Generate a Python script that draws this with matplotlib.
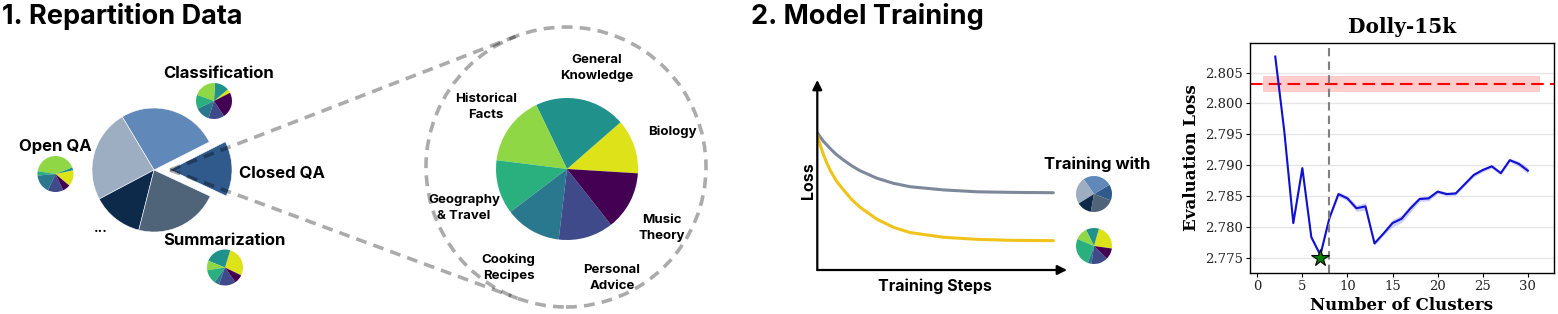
import numpy as np
import matplotlib
matplotlib.use("Agg")
import matplotlib.pyplot as plt
from matplotlib.patches import Circle

# ------------------------------------------------------------------ data
task_names = ["Closed QA", "Classification", "Open QA", "Other", "Summarization"]
task_share = [14.4, 26.1, 24.2, 13.3, 22.0]
task_colors = ["#2f5a8b", "#6089b9", "#9daec2", "#0e2a4b", "#4f6379"]

topic_names = ["Biology", "General\nKnowledge", "Historical\nFacts",
               "Geography\n& Travel", "Cooking\nRecipes", "Personal\nAdvice",
               "Music\nTheory"]
topic_colors = ["#dde318", "#21918c", "#8fd744", "#2ab07f",
                "#2a788e", "#3e4a89", "#440154"]
closed_qa_topics = [12.4, 20.7, 15.9, 12.3, 12.8, 12.5, 13.4]
classification_topics = [3.6, 13.1, 20.3, 12.5, 13.1, 14.2, 23.2]
open_qa_topics = [14.4, 2.8, 41.4, 3.9, 16.7, 13.9, 6.9]
summarization_topics = [27.5, 23.6, 8.6, 12.8, 4.2, 15.3, 8.0]
cluster_topics = [22.8, 11.7, 11.4, 25.8, 3.3, 15.0, 10.0]

# schematic training curves
steps_task = [0, 2.5, 5.4, 8.0, 11.1, 14.5, 18.1, 25.3, 32.3, 39.3, 53.5,
              67.7, 81.9, 100]
loss_task = [73.0, 68.6, 64.7, 61.5, 58.5, 55.5, 52.8, 48.8, 46.1, 44.3,
             42.6, 41.6, 41.3, 41.1]
steps_cluster = [0, 1.2, 2.5, 4.0, 5.4, 8.0, 11.1, 14.5, 18.1, 25.3, 32.3,
                 39.3, 53.5, 67.7, 81.9, 100]
loss_cluster = [71.8, 66.5, 61.8, 57.0, 53.2, 47.5, 42.6, 37.6, 33.4, 27.0,
                22.7, 19.9, 17.4, 16.3, 15.8, 15.6]

# Dolly-15k evaluation loss vs number of clusters
n_clusters = list(range(2, 31))
eval_loss = [2.8076, 2.7955, 2.7806, 2.7895, 2.7783, 2.7754, 2.7814, 2.7853,
             2.7846, 2.7830, 2.7833, 2.7773, 2.7789, 2.7806, 2.7813, 2.7830,
             2.7845, 2.7846, 2.7857, 2.7853, 2.7854, 2.7869, 2.7884, 2.7892,
             2.7898, 2.7887, 2.7908, 2.7902, 2.7891]
eval_std = [0.0003, 0.0003, 0.0003, 0.0006, 0.0003, 0.0003, 0.0003, 0.0004,
            0.0004, 0.0005, 0.0006, 0.0003, 0.0003, 0.0006, 0.0006, 0.0006,
            0.0004, 0.0004, 0.0003, 0.0003, 0.0003, 0.0003, 0.0003, 0.0003,
            0.0003, 0.0003, 0.0003, 0.0004, 0.0005]
baseline_loss = 2.8032
baseline_low, baseline_high = 2.8018, 2.8045
best_k, best_loss = 7, 2.775
chosen_k = 8

# ------------------------------------------------------------------ figure
W, H = 1558, 314
plt.rcParams["font.family"] = ["Inter", "DejaVu Sans"]
fig = plt.figure(figsize=(W / 100, H / 100), dpi=100)

ax0 = fig.add_axes([0, 0, 1, 1])


def Y(y):
    return H - y


def label(x, y_base, lines, size, dy=None):
    if dy is None:
        dy = size * 1.75
    for i, ln in enumerate(lines.split("\n")):
        ax0.text(x, Y(y_base + i * dy), ln, ha="center", va="baseline",
                 fontsize=size, fontweight="bold", color="black")


# titles
ax0.text(2, Y(23.5), "1. Repartition Data", fontsize=19.5, fontweight="bold",
         ha="left", va="baseline")
ax0.text(751, Y(24.5), "2. Model Training", fontsize=19.5, fontweight="bold",
         ha="left", va="baseline")

# dashed zoom circle and tangent lines
cx, cy, cr = 566, 167, 140
tip = np.array([170.0, 170.0])
dash_kw = dict(color="black", alpha=0.33, lw=2.6, linestyle=(0, (3, 2)))
ax0.add_patch(Circle((cx, Y(cy)), cr, fill=False, **dash_kw))

# main task pie (explode given in pixels, since the axes is in pixel units)
ax0.pie(task_share, colors=task_colors, radius=62, center=(154, Y(170)),
        startangle=-25, explode=[16, 0, 0, 0, 0], frame=True,
        wedgeprops=dict(linewidth=0.4, edgecolor="white"))

d = np.hypot(cx - tip[0], cy - tip[1])
ang0 = np.arctan2(-(cy - tip[1]), cx - tip[0])
off = np.arcsin(cr / d)
L = np.sqrt(d ** 2 - cr ** 2)
for s in (1, -1):
    a = ang0 + s * off
    ax0.plot([tip[0], tip[0] + L * np.cos(a)],
             [Y(tip[1]), Y(tip[1]) + L * np.sin(a)], **dash_kw)

# zoomed closed-QA pie
ax0.pie(closed_qa_topics, colors=topic_colors, radius=71, center=(567, Y(169)),
        startangle=-3.5, frame=True, wedgeprops=dict(linewidth=0))

# mini pies
mini = [(classification_topics, (214, 101), 27),
        (open_qa_topics, (55.5, 174), -40),
        (summarization_topics, (225, 267.5), -26),
        (cluster_topics, (1094, 246), -8)]
for vals, (mx, my), sa in mini:
    ax0.pie(vals, colors=topic_colors, radius=18, center=(mx, Y(my)),
            startangle=sa, frame=True, wedgeprops=dict(linewidth=0))
ax0.pie(task_share, colors=task_colors, radius=18, center=(1094, Y(194)),
        startangle=-21, frame=True, wedgeprops=dict(linewidth=0))

# task labels
label(218.5, 78.3, "Classification", 12)
label(55, 151, "Open QA", 12)
label(282, 178.3, "Closed QA", 12)
label(224.5, 245, "Summarization", 12)
label(101, 232, "...", 10)

# topic labels
topic_pos = {"General\nKnowledge": (597, 62.7), "Historical\nFacts": (486, 101.7),
             "Biology": (672, 135), "Geography\n& Travel": (464, 203.3),
             "Music\nTheory": (662, 223.3), "Cooking\nRecipes": (508.5, 262.7),
             "Personal\nAdvice": (612, 272.7)}
for name in topic_names:
    x, yb = topic_pos[name]
    label(x, yb, name, 9.5, dy=16.0)

label(1097, 169.3, "Training with", 12)

ax0.set_xlim(0, W)
ax0.set_ylim(0, H)
ax0.set_aspect("auto")
ax0.axis("off")

# ------------------------------------------------------------------ schematic
axs = fig.add_axes([817.3 / W, (H - 270) / H, (1067 - 817.3) / W, (270 - 80) / H])
axs.set_xlim(0, (1067 - 817.3) / 2.36)
axs.set_ylim(0, 190 / 1.88)
axs.plot(steps_task, loss_task, color="#7d889a", lw=2.2, solid_capstyle="round",
         solid_joinstyle="round")
axs.plot(steps_cluster, loss_cluster, color="#f0c31a", lw=2.2,
         solid_capstyle="round", solid_joinstyle="round")
arrow_kw = dict(arrowstyle="-|>", lw=1.6, color="black", mutation_scale=14,
                shrinkA=0, shrinkB=0)
axs.annotate("", xy=(0, 1), xytext=(0, 0), xycoords="axes fraction",
             arrowprops=arrow_kw)
axs.annotate("", xy=(1, 0), xytext=(0, 0), xycoords="axes fraction",
             arrowprops=arrow_kw)
axs.axis("off")
ax0.text(813.3, Y(180.5), "Loss", rotation=90, rotation_mode="anchor",
         ha="center", va="baseline", fontsize=11.5, fontweight="bold")
label(935, 291.5, "Training Steps", 11.5)

# ------------------------------------------------------------------ results
serif = "DejaVu Serif"
ax = fig.add_axes([1250 / W, (H - 273) / H, 304 / W, 230 / H])
lo = np.array(eval_loss) - np.array(eval_std)
hi = np.array(eval_loss) + np.array(eval_std)
ax.yaxis.grid(True, color="#e6e6e6", lw=1)
ax.set_axisbelow(True)
ax.fill_between([0.6, 31.4], baseline_low, baseline_high, color="red",
                alpha=0.2, lw=0)
ax.axhline(baseline_loss, color="red", ls="--", lw=1.5, dashes=(6, 3))
ax.fill_between(n_clusters, lo, hi, color="#3a3aff", alpha=0.25, lw=0)
ax.plot(n_clusters, eval_loss, color="#1010d0", lw=1.5)
ax.axvline(chosen_k, color="gray", ls="--", lw=1.5, dashes=(4, 2.5))
ax.plot([best_k], [best_loss], marker="*", ms=13, mfc="green", mec="black",
        mew=0.8, ls="none", zorder=5)
ax.set_xlim(-0.8, 32.9)
ax.set_ylim(2.7725, 2.8098)
ax.set_xticks([0, 5, 10, 15, 20, 25, 30])
ax.set_yticks([2.775, 2.780, 2.785, 2.790, 2.795, 2.800, 2.805])
ax.set_yticklabels([f"{v:.3f}" for v in ax.get_yticks()])
for lab in ax.get_xticklabels() + ax.get_yticklabels():
    lab.set_fontfamily(serif)
    lab.set_fontsize(9.5)
    lab.set_color("#222222")
ax.tick_params(length=3, width=0.8, pad=2)
for sp in ax.spines.values():
    sp.set_linewidth(1.0)
ax.set_title("Dolly-15k", fontfamily=serif, fontweight="bold", fontsize=14.5,
             pad=7)
ax.set_xlabel("Number of Clusters", fontfamily=serif, fontweight="bold",
              fontsize=12, labelpad=3)
ax.set_ylabel("Evaluation Loss", fontfamily=serif, fontweight="bold",
              fontsize=12, labelpad=4)

fig.savefig("out.png", dpi=100)
